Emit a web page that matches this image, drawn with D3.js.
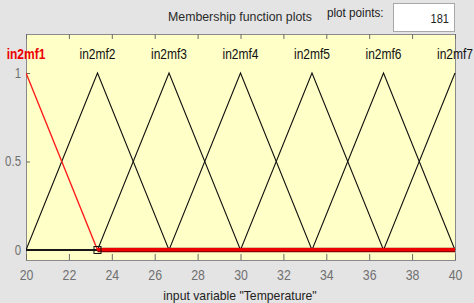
<!DOCTYPE html>
<html>
<head>
<meta charset="utf-8">
<script src="https://cdn.jsdelivr.net/npm/d3@7/dist/d3.min.js"></script>
<style>
  html, body { margin: 0; padding: 0; background: #e4e4e4; }
  svg { display: block; }
  text { font-family: "Liberation Sans", Arial, sans-serif; }
</style>
</head>
<body>
<svg id="chart" width="474" height="303"></svg>
<script>
// ---- data ----
const mfNames = ["in2mf1", "in2mf2", "in2mf3", "in2mf4", "in2mf5", "in2mf6", "in2mf7"];
const mfA = [16.667, 20, 23.333, 26.667, 30, 33.333, 36.667];
const mfB = [20, 23.333, 26.667, 30, 33.333, 36.667, 40];
const mfC = [23.333, 26.667, 30, 33.333, 36.667, 40, 43.333];
const selectedIndex = 0;
const xRange = [20, 40];
const xTickValues = [20, 22, 24, 26, 28, 30, 32, 34, 36, 38, 40];
const yTickValues = [0, 0.5, 1];
const plotPoints = "181";
const titleText = "Membership function plots";
const plotPointsLabel = "plot points:";
const xLabelText = 'input variable "Temperature"';

// ---- layout ----
const W = 474, H = 303;
const box = { left: 26, right: 455, top: 34, bottom: 260 };
const svg = d3.select("#chart");

const x = d3.scaleLinear().domain(xRange).range([box.left, box.right]);
const y = d3.scaleLinear().domain([0, 1]).range([250, 73]);

function trimf(v, a, b, c) {
  if (v <= a || v >= c) return 0;
  return v <= b ? (v - a) / (b - a) : (c - v) / (c - b);
}
function mfPoints(i) {
  const xs = [xRange[0], mfA[i], mfB[i], mfC[i], xRange[1]]
    .filter(v => v >= xRange[0] && v <= xRange[1])
    .sort((p, q) => p - q);
  return xs.map(v => [v, trimf(v, mfA[i], mfB[i], mfC[i])]);
}

function addText(g, px, py, s, o) {
  o = o || {};
  return g.append("text")
    .attr("transform", `translate(${px},${py}) scale(${o.sx || 1},1)`)
    .attr("text-anchor", o.anchor || "start")
    .attr("font-size", o.size || 13)
    .attr("font-weight", o.weight || "normal")
    .attr("fill", o.fill || "#222")
    .text(s);
}

// background
svg.append("rect").attr("width", W).attr("height", H).attr("fill", "#e4e4e4");

// header
addText(svg, 168, 21, titleText, { size: 13, sx: 0.95, fill: "#2a2a2a" });
addText(svg, 327, 17, plotPointsLabel, { size: 13, sx: 0.9, fill: "#1a1a1a" });
svg.append("rect").attr("x", 393.5).attr("y", 3.5).attr("width", 61).attr("height", 28)
  .attr("fill", "#ffffff").attr("stroke", "#a8a8a8");
addText(svg, 449, 23, plotPoints, { size: 13, sx: 0.85, anchor: "end", fill: "#222" });

// plot area
svg.append("rect")
  .attr("x", box.left + 0.5).attr("y", box.top + 0.5)
  .attr("width", box.right - box.left).attr("height", box.bottom - box.top)
  .attr("fill", "#ffffc8").attr("stroke", "#8a8a8a");

svg.append("clipPath").attr("id", "clip").append("rect")
  .attr("x", box.left).attr("y", box.top)
  .attr("width", box.right - box.left + 1).attr("height", box.bottom - box.top + 1);

// axes
const gx = svg.append("g").attr("transform", `translate(0,${box.bottom})`)
  .call(d3.axisBottom(x).tickValues(xTickValues).tickSize(-6).tickPadding(10).tickFormat(d => String(d)));
const gt = svg.append("g").attr("transform", `translate(0,${box.top})`)
  .call(d3.axisTop(x).tickValues(xTickValues).tickSize(-5).tickFormat(""));
const gy = svg.append("g").attr("transform", `translate(${box.left},0)`)
  .call(d3.axisLeft(y).tickValues(yTickValues).tickSize(-4).tickPadding(6).tickFormat(d => String(d)));

[gx, gt, gy].forEach(g => {
  g.select(".domain").remove();
  g.selectAll(".tick line").attr("stroke", "#6a6a6a");
  g.selectAll(".tick text")
    .attr("font-family", '"Liberation Sans", Arial, sans-serif')
    .attr("font-size", 14).attr("fill", "#707070");
});
gx.selectAll(".tick text").attr("transform", "scale(0.88,1)");
gy.selectAll(".tick text").attr("transform", "scale(0.82,1)");

// curves
const line = d3.line().x(d => x(d[0])).y(d => y(d[1]));
const plot = svg.append("g").attr("clip-path", "url(#clip)");

mfNames.forEach((name, i) => {
  if (i === selectedIndex) return;
  plot.append("path").datum(mfPoints(i)).attr("d", line)
    .attr("fill", "none").attr("stroke", "#111").attr("stroke-width", 1.1);
});

// selected MF in red
const sel = mfPoints(selectedIndex);
const zeroStart = mfC[selectedIndex];
plot.append("path").datum([[zeroStart, 0], [xRange[1], 0]]).attr("d", line)
  .attr("fill", "none").attr("stroke", "#8a0000").attr("stroke-width", 4.5);
plot.append("path").datum([[zeroStart, 0], [xRange[1], 0]]).attr("d", line)
  .attr("fill", "none").attr("stroke", "#ee0000").attr("stroke-width", 3)
  .attr("transform", "translate(0,-0.6)");
plot.append("path").datum(sel.filter(d => d[0] <= zeroStart)).attr("d", line)
  .attr("fill", "none").attr("stroke", "#ff1a1a").attr("stroke-width", 1.4);

// marker square at selected MF foot
svg.append("rect")
  .attr("x", x(zeroStart) - 3.5).attr("y", y(0) - 3.5)
  .attr("width", 7).attr("height", 7)
  .attr("fill", "none").attr("stroke", "#111").attr("stroke-width", 1);

// MF labels
mfNames.forEach((name, i) => {
  const isSel = i === selectedIndex;
  addText(svg, x(mfB[i]), 59, name, {
    size: 15, sx: 0.8, anchor: "middle",
    weight: isSel ? "bold" : "normal",
    fill: isSel ? "#ee0000" : "#111"
  });
});

// x label
addText(svg, 240, 300, xLabelText, { size: 13, sx: 0.94, anchor: "middle", fill: "#222" });
</script>
</body>
</html>
